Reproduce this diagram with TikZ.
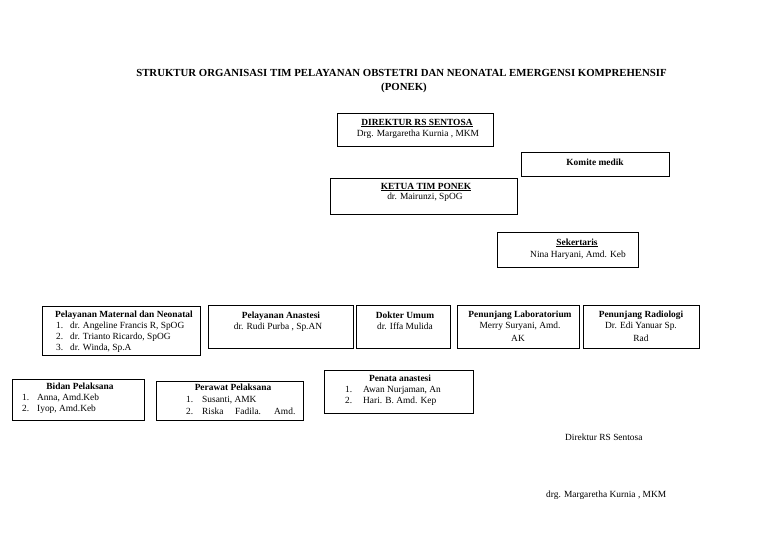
\documentclass[tikz,border=0pt]{standalone}
\usepackage{fontspec}
\setmainfont{Liberation Serif}
\begin{document}
\begin{tikzpicture}[x=1pt,y=-1pt,
  box/.style={draw=black, line width=0.9pt, inner sep=0pt, outer sep=0pt},
  txt/.style={inner sep=0pt, anchor=base, font=\fontsize{9.4}{11}\selectfont},
  ltxt/.style={txt, anchor=base west},
  btxt/.style={txt, font=\fontsize{9.4}{11}\selectfont\bfseries},
  ttl/.style={inner sep=0pt, anchor=base, font=\fontsize{10.8}{13}\selectfont\bfseries}]
\useasboundingbox (0,0) rectangle (768,543);
% title
\node[ttl] (title1) at (401.5,76) {STRUKTUR ORGANISASI TIM PELAYANAN OBSTETRI DAN NEONATAL EMERGENSI KOMPREHENSIF};
\node[ttl] (title2) at (404,90) {(PONEK)};
% boxes
\node[box, minimum width=156pt, minimum height=33pt] (dir) at (415,129.5) {};
\node[box, minimum width=148pt, minimum height=24pt] (kom) at (595,164) {};
\node[box, minimum width=187pt, minimum height=36pt] (ket) at (423.5,196) {};
\node[box, minimum width=141pt, minimum height=35pt] (sek) at (567.5,249.5) {};
\node[box, minimum width=158pt, minimum height=49pt] (mat) at (121,330.5) {};
\node[box, minimum width=145pt, minimum height=43pt] (anas) at (280.5,326.5) {};
\node[box, minimum width=94pt, minimum height=43pt] (dok) at (403,326.5) {};
\node[box, minimum width=122pt, minimum height=43pt] (lab) at (518,326.5) {};
\node[box, minimum width=116pt, minimum height=43pt] (rad) at (641,326.5) {};
\node[box, minimum width=132pt, minimum height=41pt] (bid) at (78,399.5) {};
\node[box, minimum width=147pt, minimum height=39pt] (per) at (229.5,400.5) {};
\node[box, minimum width=149pt, minimum height=43pt] (pen) at (398.5,391.5) {};
% direktur
\node[btxt] (dirA) at (417,125) {\underline{DIREKTUR RS SENTOSA}};
\node[txt] (dirB) at (418,136) {Drg. Margaretha Kurnia , MKM};
% komite
\node[btxt] (komA) at (595,165) {Komite medik};
% ketua
\node[btxt] (ketA) at (426,189) {\underline{KETUA TIM PONEK}};
\node[txt] (ketB) at (425,199.5) {dr. Mairunzi, SpOG};
% sekertaris
\node[btxt] (sekA) at (577,245) {\underline{Sekertaris}};
\node[txt] (sekB) at (578,257) {Nina Haryani, Amd. Keb};
% maternal
\node[btxt] (matA) at (124,317) {Pelayanan Maternal dan Neonatal};
\node[ltxt] (matN1) at (56,328) {1.};
\node[ltxt] (matT1) at (70,328) {dr. Angeline Francis R, SpOG};
\node[ltxt] (matN2) at (56,339) {2.};
\node[ltxt] (matT2) at (70,339) {dr. Trianto Ricardo, SpOG};
\node[ltxt] (matN3) at (56,350) {3.};
\node[ltxt] (matT3) at (70,350) {dr. Winda, Sp.A};
% anastesi
\node[btxt] (anasA) at (281,318) {Pelayanan Anastesi};
\node[txt] (anasB) at (278,329) {dr. Rudi Purba , Sp.AN};
% dokter umum
\node[btxt] (dokA) at (405,318) {Dokter Umum};
\node[txt] (dokB) at (405,329) {dr. Iffa Mulida};
% lab
\node[btxt] (labA) at (520,317) {Penunjang Laboratorium};
\node[txt] (labB) at (520,328) {Merry Suryani, Amd.};
\node[txt] (labC) at (518,341) {AK};
% radiologi
\node[btxt] (radA) at (641,317) {Penunjang Radiologi};
\node[txt] (radB) at (641,328) {Dr. Edi Yanuar Sp.};
\node[txt] (radC) at (641,341) {Rad};
% bidan
\node[btxt] (bidA) at (80,389) {Bidan Pelaksana};
\node[ltxt] (bidN1) at (22,400) {1.};
\node[ltxt] (bidT1) at (37,400) {Anna, Amd.Keb};
\node[ltxt] (bidN2) at (22,411) {2.};
\node[ltxt] (bidT2) at (37,411) {Iyop, Amd.Keb};
% perawat
\node[btxt] (perA) at (233,390.5) {Perawat Pelaksana};
\node[ltxt] (perN1) at (186,402.5) {1.};
\node[ltxt] (perT1) at (202,402.5) {Susanti, AMK};
\node[ltxt] (perN2) at (186,414) {2.};
\node[ltxt] (perT2) at (202,414) {Riska};
\node[ltxt] (perT3) at (235,414) {Fadila.};
\node[ltxt] (perT4) at (274,414) {Amd.};
% penata
\node[btxt] (penA) at (400,381) {Penata anastesi};
\node[ltxt] (penN1) at (345,392) {1.};
\node[ltxt] (penT1) at (363,392) {Awan Nurjaman, An};
\node[ltxt] (penN2) at (345,403.5) {2.};
\node[ltxt] (penT2) at (363,403.5) {Hari. B. Amd. Kep};
% signature
\node[ltxt] (sig1) at (565,440) {Direktur RS Sentosa};
\node[ltxt] (sig2) at (546,497) {drg. Margaretha Kurnia , MKM};
\end{tikzpicture}
\end{document}
